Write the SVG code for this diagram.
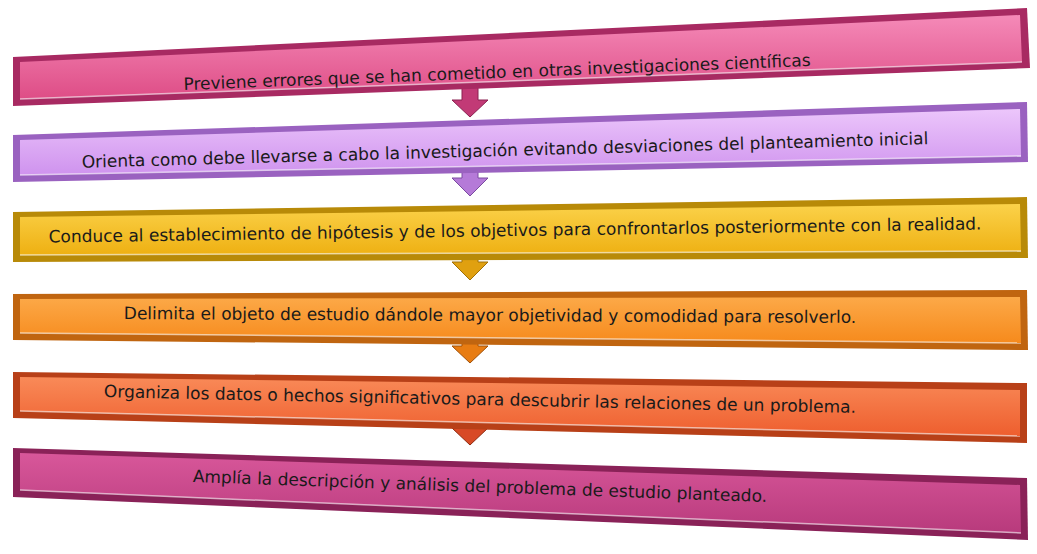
<svg xmlns="http://www.w3.org/2000/svg" width="1037" height="554" viewBox="0 0 1037 554">
<style>
text{font-family:"DejaVu Sans","Liberation Sans",sans-serif;font-size:17px;fill:#1a1a1a;text-anchor:middle}
.hl{fill:none;stroke:#ffffff;stroke-opacity:0.6;stroke-width:1.5}
</style>
<defs>
<linearGradient id="g1" x1="0" y1="0" x2="0" y2="1"><stop offset="0" stop-color="#f58ab8"/><stop offset="1" stop-color="#de4d86"/></linearGradient>
<linearGradient id="g2" x1="0" y1="0" x2="0" y2="1"><stop offset="0" stop-color="#ecc6fb"/><stop offset="1" stop-color="#cf93ee"/></linearGradient>
<linearGradient id="g3" x1="0" y1="0" x2="0" y2="1"><stop offset="0" stop-color="#fbd24a"/><stop offset="1" stop-color="#eeb012"/></linearGradient>
<linearGradient id="g4" x1="0" y1="0" x2="0" y2="1"><stop offset="0" stop-color="#fca948"/><stop offset="1" stop-color="#f68a1c"/></linearGradient>
<linearGradient id="g5" x1="0" y1="0" x2="0" y2="1"><stop offset="0" stop-color="#f98a58"/><stop offset="1" stop-color="#ee5e2e"/></linearGradient>
<linearGradient id="g6" x1="0" y1="0" x2="0" y2="1"><stop offset="0" stop-color="#d8579a"/><stop offset="1" stop-color="#b83a7c"/></linearGradient>
</defs>
<g id="connectors">
<polygon points="462,86 478,86 478,100 488,100 470,117 452,100 462,100" fill="#c23a76" stroke="#8a2050" stroke-width="1"/>
<polygon points="462,166 478,166 478,178 488,178 470,196 452,178 462,178" fill="#b57ad8" stroke="#7a4aa0" stroke-width="1"/>
<polygon points="462,252 478,252 478,262 488,262 470,280 452,262 462,262" fill="#e0a010" stroke="#a07008" stroke-width="1"/>
<polygon points="462,338 478,338 478,346 488,346 470,363 452,346 462,346" fill="#e87c12" stroke="#a05008" stroke-width="1"/>
<polygon points="462,418 478,418 478,428 488,428 470,445 452,428 462,428" fill="#d84a26" stroke="#902a10" stroke-width="1"/>
</g>
<g id="n1">
<polygon points="13,57 1027,8 1030,68 13,106" fill="#a82a62"/>
<polygon points="20,62 1020,15 1022,62 20,99" fill="url(#g1)"/>
<polyline class="hl" points="20,99 1022,62"/>
<text x="497" y="78" transform="rotate(-2.2 497 72)">Previene errores que se han cometido en otras investigaciones científicas</text>
</g>
<g id="n2">
<polygon points="13,135 1027,102 1028,162 13,182" fill="#9a62c0"/>
<polygon points="20,140 1020,109 1021,156 20,175" fill="url(#g2)"/>
<polyline class="hl" points="20,175 1021,156"/>
<text x="505" y="156" transform="rotate(-1.6 505 150)">Orienta como debe llevarse a cabo la investigación evitando desviaciones del planteamiento inicial</text>
</g>
<g id="n3">
<polygon points="13,212 1027,197 1028,258 13,262" fill="#b88a08"/>
<polygon points="20,217 1020,204 1021,251 20,255" fill="url(#g3)"/>
<polyline class="hl" points="20,255 1021,251"/>
<text x="515" y="236" transform="rotate(-0.8 515 230)">Conduce al establecimiento de hipótesis y de los objetivos para confrontarlos posteriormente con la realidad.</text>
</g>
<g id="n4">
<polygon points="13,294 1027,290 1028,350 13,340" fill="#c06510"/>
<polygon points="20,299 1020,297 1021,343 20,333" fill="url(#g4)"/>
<polyline class="hl" points="20,333 1021,343"/>
<text x="490" y="321" transform="rotate(0.3 490 315)">Delimita el objeto de estudio dándole mayor objetividad y comodidad para resolverlo.</text>
</g>
<g id="n5">
<polygon points="13,372 1027,383 1027,443 13,418" fill="#b84018"/>
<polygon points="20,377 1020,390 1020,436 20,411" fill="url(#g5)"/>
<polyline class="hl" points="20,411 1020,436"/>
<text x="480" y="405" transform="rotate(1.2 480 399)">Organiza los datos o hechos significativos para descubrir las relaciones de un problema.</text>
</g>
<g id="n6">
<polygon points="13,448 1027,478 1028,540 13,497" fill="#8a2258"/>
<polygon points="20,453 1020,485 1021,533 20,490" fill="url(#g6)"/>
<polyline class="hl" points="20,490 1021,533"/>
<text x="480" y="492" transform="rotate(2 480 486)">Amplía la descripción y análisis del problema de estudio planteado.</text>
</g>
</svg>
